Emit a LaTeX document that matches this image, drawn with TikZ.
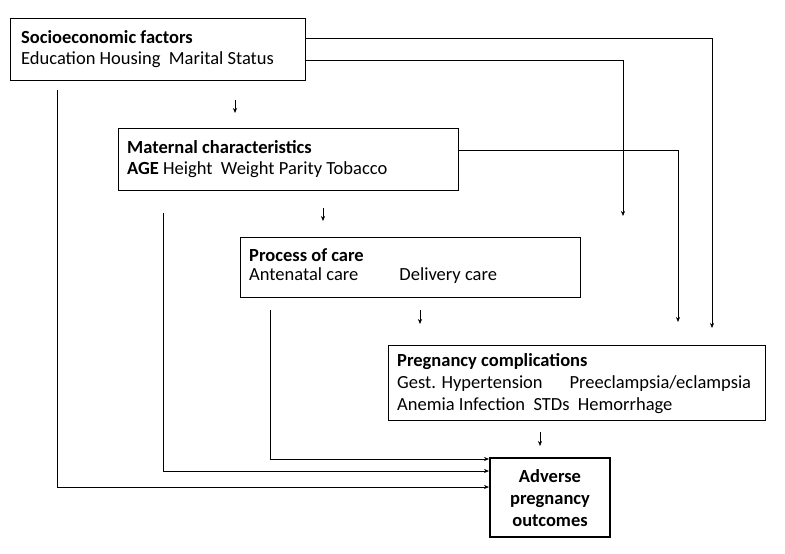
\documentclass[tikz,border=0pt]{standalone}
\usepackage{fontspec}
\setmainfont{Carlito}
\usetikzlibrary{arrows.meta}
\begin{document}
\begin{tikzpicture}[x=1pt,y=-1pt,
  lbl/.style={anchor=west,inner sep=0pt,font=\fontsize{18.5}{22}\selectfont},
  arr/.style={-{Stealth[length=5pt,width=4pt]},line width=0.6pt}]
\useasboundingbox (0,0) rectangle (785,554);
\draw[line width=0.7pt] (10,18) rectangle (305,80);
\node[lbl] (t1) at (21,37) {\textbf{Socioeconomic factors}};
\node[lbl] (s1) at (21,60) {Education Housing\ \ Marital Status};
\draw[line width=0.7pt] (118,128) rectangle (458,190);
\node[lbl] (t2) at (127,147) {\textbf{Maternal characteristics}};
\node[lbl] (s2) at (127,170) {\textbf{AGE} Height\ \ Weight\ Parity Tobacco};
\draw[line width=0.7pt] (240,237) rectangle (580,297);
\node[lbl] (t3) at (249,255) {\textbf{Process of care}};
\node[lbl] (s3) at (249,276) {Antenatal care\qquad\ Delivery care};
\draw[line width=0.7pt] (388,345) rectangle (765,420);
\node[lbl] (t4) at (397,362) {\textbf{Pregnancy complications}};
\node[lbl] (s4) at (397,384) {Gest. Hypertension\quad\ \ Preeclampsia/eclampsia};
\node[lbl] (u4) at (397,406) {Anemia Infection\ \ STDs\ \ Hemorrhage};
\draw[line width=1.4pt] (490,458) rectangle (610,537);
\node[align=center,font=\fontsize{18.5}{22}\selectfont\bfseries] (o) at (550,498) {Adverse\\pregnancy\\outcomes};
\coordinate (a1) at (235,100); \coordinate (b1) at (235,113);
\coordinate (a2) at (323,208); \coordinate (b2) at (323,221);
\coordinate (a3) at (420,310); \coordinate (b3) at (420,324);
\coordinate (a4) at (540,432); \coordinate (b4) at (540,446);
\draw[arr] (a1)--(b1); \draw[arr] (a2)--(b2); \draw[arr] (a3)--(b3); \draw[arr] (a4)--(b4);
\draw[arr] (305,38) -| (712,328);
\draw[arr] (305,60) -| (623,216);
\draw[arr] (458,150) -| (678,322);
\draw[arr] (57,90) |- (489,487);
\draw[arr] (163,213) |- (489,471);
\draw[arr] (270,310) |- (489,459);
\end{tikzpicture}
\end{document}
